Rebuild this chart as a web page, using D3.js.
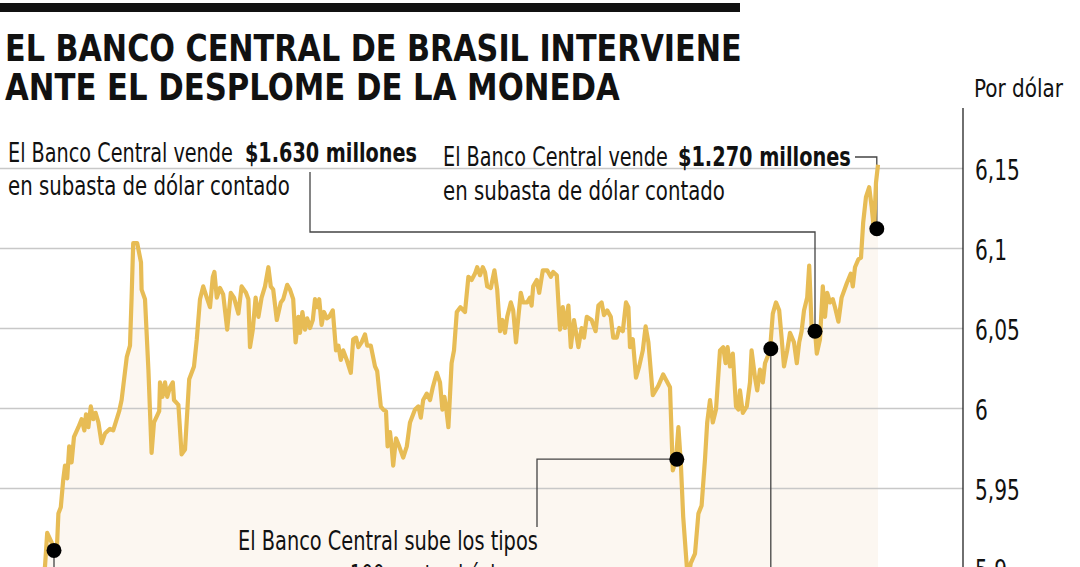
<!DOCTYPE html>
<html>
<head>
<meta charset="utf-8">
<script src="https://cdn.jsdelivr.net/npm/d3@7"></script>
<style>
  body { margin: 0; background: #fff; }
  svg { display: block; }
  text { font-family: "DejaVu Sans Condensed", "Liberation Sans Narrow", "Liberation Sans", sans-serif; fill: #111; }
</style>
</head>
<body>
<svg id="chart" width="1080" height="567"></svg>
<script>
// hours since the start of the period shown
var hours = [0, 1.25, 1.8, 2.9, 3.5, 4.2, 4.6, 5.2, 5.8, 6.25, 6.8, 7.3, 7.9, 8.5, 9.6, 10.4, 11.1, 11.5, 12.1, 12.7,
  13.3, 13.9, 14.6, 15.4, 16.25, 17.5, 18.3, 19.8, 20.4, 21.7, 22.5, 22.9, 23.3, 24.3, 25.25, 25.4, 26.25, 27.1, 27.9, 28.5,
  29.8, 30, 30.6, 31.25, 31.8, 32.5, 33.2, 33.5, 34.6, 35.4, 36.25, 37.3, 38.5, 39.2, 40, 40.8, 41.7, 42.5, 43.2, 43.6,
  44.2, 45, 45.8, 46.8, 47.7, 48.5, 49.6, 50.4, 51.5, 52.1, 52.5, 53.2, 53.9, 54.6, 55.4, 56.25, 57.1, 57.7, 58.3, 59.2,
  60.2, 60.8, 61.8, 62.5, 63.3, 63.9, 64.6, 65, 65.6, 66.25, 66.8, 67.5, 68.2, 68.75, 69.3, 69.8, 70.4, 71, 71.7, 72.3,
  73.2, 74, 74.6, 75.2, 75.8, 76.7, 77.7, 78.3, 79, 79.6, 80.4, 81.25, 81.8, 82.7, 83.75, 84.3, 85.2, 85.8, 86.5, 86.9,
  87.5, 87.9, 88.3, 89, 89.8, 90.8, 91.7, 92.5, 93.75, 94.6, 95.2, 95.8, 96.7, 97.5, 98.2, 99.2, 100, 100.6, 101.1, 101.5,
  102.1, 102.9, 103.5, 104.2, 105.1, 106.25, 107.1, 107.9, 108.75, 109.3, 110, 110.7, 111.25, 111.8, 112.7, 113.6, 114.3, 115, 115.6, 116.25,
  116.8, 117.7, 118.3, 119, 119.6, 120.2, 120.8, 121.8, 122.5, 122.9, 123.3, 124.2, 124.8, 125.7, 126.8, 127.7, 128.3, 129.2, 130, 130.7,
  131.25, 132.1, 132.7, 133.5, 134.6, 135.4, 136, 136.7, 137.9, 138.9, 139.6, 140.4, 141, 141.8, 142.7, 143.3, 144.2, 144.8, 145.7, 146.5,
  147.1, 147.5, 148.2, 149, 149.8, 150.7, 151.4, 152.1, 153.2, 154.6, 155.8, 157.5, 158.2, 159, 159.6, 160.2, 160.8, 161.7, 162, 162.7,
  163.75, 164.6, 165.4, 166.25, 166.8, 167.5, 168.2, 169, 170, 170.8, 171.4, 171.9, 172.5, 173.2, 174, 174.6, 175, 175.7, 176.7, 177.5,
  177.9, 178.75, 179.3, 180, 180.7, 181.25, 182.5, 183.2, 184, 184.8, 185.4, 186, 186.8, 187.5, 188.5, 189.2, 189.8, 190.4, 191, 191.8,
  192.3, 192.9, 193.75, 194.2, 195, 195.7, 196.25, 196.8, 197.5, 198.2, 198.75, 199.6, 200.4, 201.7, 202.7, 203.2, 203.75, 204.6, 205.25, 205.8,
  206.5, 207.3, 207.9, 208.5, 209, 209.5];

// reales por dólar
var rate = [5.886, 5.901, 5.922, 5.916, 5.911, 5.911, 5.934, 5.938, 5.955, 5.964, 5.956, 5.976, 5.966, 5.982, 5.988, 5.993, 5.986, 5.996, 5.988, 6.001,
  5.993, 5.997, 5.991, 5.978, 5.984, 5.987, 5.986, 5.998, 6.005, 6.032, 6.039, 6.069, 6.103, 6.103, 6.091, 6.074, 6.068, 6.024, 5.972, 5.991,
  5.998, 6.016, 6.007, 6.016, 6.007, 6.013, 6.016, 6.005, 6.002, 5.971, 5.974, 6.018, 6.026, 6.043, 6.068, 6.076, 6.069, 6.063, 6.082, 6.085,
  6.069, 6.075, 6.071, 6.049, 6.072, 6.069, 6.059, 6.076, 6.072, 6.068, 6.038, 6.049, 6.069, 6.057, 6.069, 6.076, 6.088, 6.076, 6.074, 6.055,
  6.066, 6.068, 6.077, 6.074, 6.068, 6.041, 6.057, 6.047, 6.060, 6.049, 6.056, 6.050, 6.055, 6.068, 6.063, 6.068, 6.052, 6.060, 6.056, 6.057,
  6.061, 6.036, 6.039, 6.030, 6.036, 6.030, 6.022, 6.043, 6.044, 6.038, 6.041, 6.046, 6.039, 6.039, 6.026, 6.023, 6.001, 5.999, 5.998, 5.976,
  5.985, 5.976, 5.964, 5.981, 5.976, 5.969, 5.976, 5.991, 5.999, 6.001, 5.994, 6.005, 6.009, 6.005, 6.013, 6.022, 6.016, 5.999, 6.007, 6.001,
  5.988, 6.028, 6.036, 6.060, 6.063, 6.060, 6.082, 6.080, 6.084, 6.088, 6.083, 6.088, 6.085, 6.076, 6.075, 6.086, 6.074, 6.048, 6.055, 6.047,
  6.057, 6.066, 6.061, 6.041, 6.057, 6.072, 6.066, 6.066, 6.069, 6.064, 6.076, 6.080, 6.072, 6.086, 6.086, 6.082, 6.085, 6.083, 6.049, 6.063,
  6.050, 6.064, 6.038, 6.055, 6.038, 6.050, 6.044, 6.057, 6.055, 6.048, 6.064, 6.066, 6.058, 6.061, 6.057, 6.044, 6.044, 6.050, 6.048, 6.066,
  6.063, 6.038, 6.043, 6.019, 6.026, 6.036, 6.051, 6.041, 6.008, 6.014, 6.021, 6.013, 5.961, 5.968, 5.988, 5.966, 5.932, 5.901, 5.893, 5.903,
  5.909, 5.934, 5.939, 5.968, 5.991, 6.005, 5.991, 5.999, 6.036, 6.038, 6.028, 6.038, 6.026, 6.034, 6.001, 5.999, 6.011, 5.997, 6.001, 6.016,
  6.036, 6.019, 6.011, 6.024, 6.016, 6.028, 6.036, 6.059, 6.066, 6.061, 6.044, 6.026, 6.036, 6.047, 6.041, 6.028, 6.041, 6.048, 6.061, 6.069,
  6.089, 6.051, 6.048, 6.034, 6.043, 6.076, 6.057, 6.072, 6.066, 6.068, 6.063, 6.054, 6.069, 6.078, 6.084, 6.076, 6.088, 6.093, 6.094, 6.116,
  6.132, 6.138, 6.126, 6.111, 6.141, 6.152];

var yTicks = [5.9, 5.95, 6, 6.05, 6.1, 6.15];

// marked events (dots)
var eventHours = [3.5, 159.2, 182.7, 193.75, 209.2];
var eventRate = [5.911, 5.968, 6.037, 6.048, 6.112];

var data = hours.map(function (h, i) { return { h: h, v: rate[i] }; });

var svg = d3.select("#chart");
var x = d3.scaleLinear().domain([0, 210]).range([40, 880]);
var y = d3.scaleLinear().domain([5.9, 6.15]).range([568, 168]);

var es = d3.formatLocale({ decimal: ",", thousands: ".", grouping: [3], currency: ["$", ""] });
var fmt = es.format("~r");

// squeeze a text horizontally so it spans `w` pixels from `tx` (condensed look)
function fit(t, tx, w) {
  var natural = t.node().getComputedTextLength();
  var k = w / natural;
  t.attr("x", 0).attr("transform", "translate(" + tx + ",0) scale(" + k + ",1)");
  return t;
}

// top rule
svg.append("rect").attr("x", 0).attr("y", 3).attr("width", 740).attr("height", 9).attr("fill", "#111");

// title
fit(svg.append("text").attr("y", 61).attr("font-size", 37).attr("font-weight", "bold")
  .attr("font-family", '"Liberation Sans", sans-serif')
  .text("EL BANCO CENTRAL DE BRASIL INTERVIENE"), 5, 737);
fit(svg.append("text").attr("y", 100).attr("font-size", 37).attr("font-weight", "bold")
  .attr("font-family", '"Liberation Sans", sans-serif')
  .text("ANTE EL DESPLOME DE LA MONEDA"), 5, 615);

// area under line
svg.append("path")
  .datum(data)
  .attr("fill", "#fcf7f1")
  .attr("d", d3.area().x(function (d) { return x(d.h); }).y0(y(5.85)).y1(function (d) { return y(d.v); }));

// gridlines + labels
var axis = d3.axisRight(y).tickValues(yTicks).tickSize(-963).tickPadding(12).tickFormat(fmt);
var ag = svg.append("g").attr("transform", "translate(963,0)").call(axis);
ag.select(".domain").remove();
ag.selectAll(".tick line").attr("stroke", "#c8c8c8").attr("stroke-width", 1.3);
var tickK = 0.8;
ag.selectAll(".tick text").attr("font-size", 28).attr("dy", "0.4em").attr("fill", "#111")
  .attr("x", 12 / tickK).attr("transform", "scale(" + tickK + ",1)");
svg.append("line").attr("x1", 963).attr("x2", 963).attr("y1", 108).attr("y2", 567)
  .attr("stroke", "#222").attr("stroke-width", 1.3);
fit(svg.append("text").attr("y", 97).attr("font-size", 25).text("Por dólar"), 974, 89);

// leader lines
var ex = eventHours.map(x), ey = eventRate.map(y);
var leaders = [
  "M54," + ey[0] + "V567",
  "M537,527V" + ey[1] + "H" + ex[1],
  "M" + ex[2] + "," + ey[2] + "V567",
  "M310,172V232H" + ex[3] + "V" + ey[3],
  "M855,157H" + ex[4] + "V" + ey[4]
];
svg.selectAll("path.leader").data(leaders).enter().append("path")
  .attr("class", "leader").attr("d", function (d) { return d; })
  .attr("fill", "none").attr("stroke", "#444").attr("stroke-width", 1.3);

// rate line
svg.append("path")
  .datum(data)
  .attr("fill", "none")
  .attr("stroke", "#e7bc55")
  .attr("stroke-width", 4.2)
  .attr("stroke-linejoin", "round")
  .attr("d", d3.line().x(function (d) { return x(d.h); }).y(function (d) { return y(d.v); }));

// event dots
svg.selectAll("circle.ev").data(eventHours).enter().append("circle")
  .attr("class", "ev")
  .attr("cx", function (d, i) { return ex[i]; })
  .attr("cy", function (d, i) { return ey[i]; })
  .attr("r", 7.5).attr("fill", "#000");

// annotations
function note(tx, ty, str, w, bold) {
  var t = svg.append("text").attr("y", ty).attr("font-size", 27)
    .attr("font-weight", bold ? "bold" : "normal").text(str);
  fit(t, tx, w);
}
note(8, 162, "El Banco Central vende", 225, false);
note(245, 162, "$1.630 millones", 172, true);
note(8, 195, "en subasta de dólar contado", 282, false);
note(443, 166, "El Banco Central vende", 225, false);
note(678, 166, "$1.270 millones", 173, true);
note(443, 200, "en subasta de dólar contado", 282, false);
note(238, 550, "El Banco Central sube los tipos", 300, false);
note(350, 584, "100 puntos básicos", 176, false);
</script>
</body>
</html>
